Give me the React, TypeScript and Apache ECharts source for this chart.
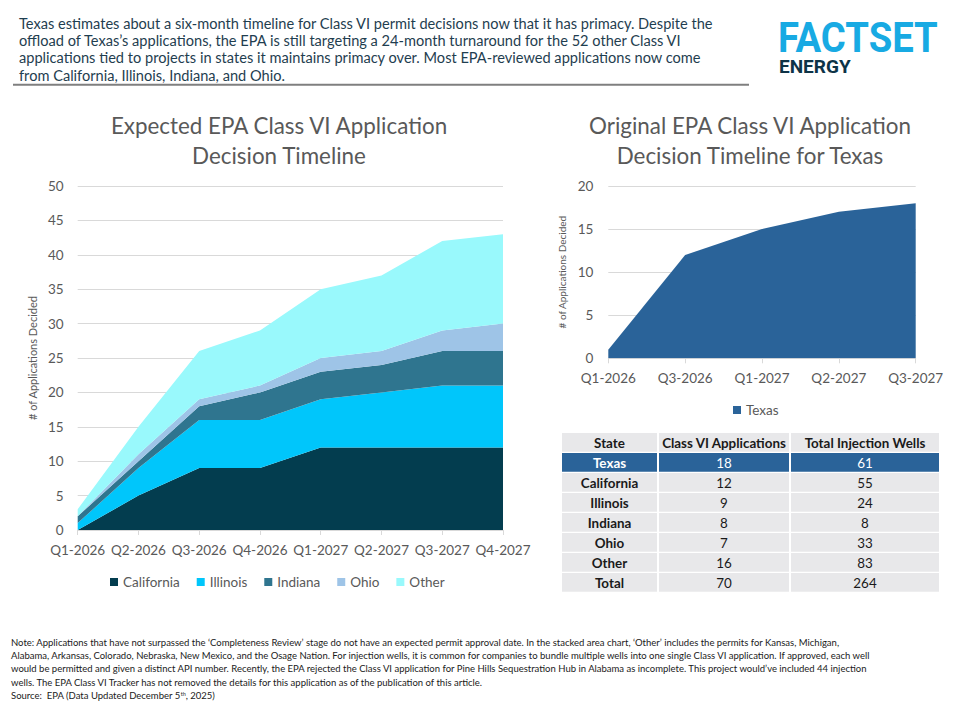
import React, { useEffect, useRef } from "react";
import * as echarts from "echarts";

const categories = ["Q1-2026", "Q2-2026", "Q3-2026", "Q4-2026", "Q1-2027", "Q2-2027", "Q3-2027", "Q4-2027"];
const california = [0, 5, 9, 9, 12, 12, 12, 12];
const illinois = [1, 4, 7, 7, 7, 8, 9, 9];
const indiana = [1, 1, 2, 4, 4, 4, 5, 5];
const ohio = [0, 1, 1, 1, 2, 2, 3, 4];
const other = [1, 4, 7, 8, 10, 11, 13, 13];

const texasCategories = ["Q1-2026", "Q3-2026", "Q1-2027", "Q2-2027", "Q3-2027"];
const texas = [1, 12, 15, 17, 18];

const tableHeader = ["State", "Class VI Applications", "Total Injection Wells"];
const tableStates = ["Texas", "California", "Illinois", "Indiana", "Ohio", "Other", "Total"];
const tableApplications = [18, 12, 9, 8, 7, 16, 70];
const tableWells = [61, 55, 24, 8, 33, 83, 264];

const headerLines = [
  "Texas estimates about a six-month timeline for Class VI permit decisions now that it has primacy. Despite the",
  "offload of Texas\u2019s applications, the EPA is still targeting a 24-month turnaround for the 52 other Class VI",
  "applications tied to projects in states it maintains primacy over. Most EPA-reviewed applications now come",
  "from California, Illinois, Indiana, and Ohio.",
];

const noteLines = [
  "Note: Applications that have not surpassed the \u2018Completeness Review\u2019 stage do not have an expected permit approval date. In the stacked area chart, \u2018Other\u2019 includes the permits for Kansas, Michigan,",
  "Alabama, Arkansas, Colorado, Nebraska, New Mexico, and the Osage Nation. For injection wells, it is common for companies to bundle multiple wells into one single Class VI application. If approved, each well",
  "would be permitted and given a distinct API number. Recently, the EPA rejected the Class VI application for Pine Hills Sequestration Hub in Alabama as incomplete. This project would\u2019ve included 44 injection",
  "wells. The EPA Class VI Tracker has not removed the details for this application as of the publication of this article.",
];

const FONT = "Lato, 'Open Sans', sans-serif";
const GRAY = "#595959";
const GRID = "#d9d9d9";
const COLORS = {
  California: "#033d4f",
  Illinois: "#00c6fb",
  Indiana: "#2f758f",
  Ohio: "#9ec4e7",
  Other: "#99f9fc",
  Texas: "#2a6399",
};

function txt(x: number, y: number, text: string, size: number, fill: string, opts: any = {}) {
  return {
    type: "text",
    x,
    y,
    silent: true,
    style: {
      text,
      fill,
      fontSize: size,
      fontFamily: opts.family || FONT,
      fontWeight: opts.weight || "normal",
      align: opts.align || "left",
      textAlign: opts.align || "left",
      verticalAlign: "middle",
      textVerticalAlign: "middle",
      lineHeight: opts.lineHeight,
      rich: opts.rich,
    },
    scaleX: opts.scaleX || 1,
  };
}

export default function App() {
  const ref = useRef<HTMLDivElement>(null);

  useEffect(() => {
    if (!ref.current) return;
    const chart = echarts.init(ref.current, null, { renderer: "svg" });

    const graphics: any[] = [];
    headerLines.forEach((l, i) => graphics.push(txt(19, 23.5 + i * 17.2, l, 14.6, "#1f3e50")));
    graphics.push({
      type: "line",
      silent: true,
      shape: { x1: 13, y1: 84.8, x2: 749, y2: 84.8 },
      style: { stroke: "#7f7f7f", lineWidth: 2 },
    });
    graphics.push(txt(778, 38, "FACTSET", 42, "#18aae3", { weight: "bold", family: "Roboto, sans-serif", scaleX: 0.91 }));
    graphics.push(txt(779, 66, "ENERGY", 19, "#0d3347", { weight: "bold", family: "Roboto, sans-serif" }));

    graphics.push(txt(279, 140, "Expected EPA Class VI Application\nDecision Timeline", 22.4, GRAY, { align: "center", lineHeight: 30 }));
    graphics.push(txt(750, 140, "Original EPA Class VI Application\nDecision Timeline for Texas", 22.4, GRAY, { align: "center", lineHeight: 30 }));

    // Table
    const colX = [562, 659, 791];
    const colW = [95, 130, 148];
    const rowTop = 433;
    const rowH = 20;
    const rows: (string | number)[][] = [tableHeader];
    tableStates.forEach((s, i) => rows.push([s, tableApplications[i], tableWells[i]]));
    rows.forEach((row, r) => {
      const isTexas = r === 1;
      row.forEach((cell, c) => {
        const y = rowTop + r * rowH;
        graphics.push({
          type: "rect",
          silent: true,
          shape: { x: colX[c], y, width: colW[c], height: rowH - 1.2 },
          style: { fill: isTexas ? COLORS.Texas : "#e8e8ea" },
        });
        graphics.push(
          txt(colX[c] + colW[c] / 2, y + rowH / 2 - 0.5, String(cell), 13.4, isTexas ? "#ffffff" : "#1a1a1a", {
            align: "center",
            weight: r === 0 || c === 0 ? "bold" : "normal",
          })
        );
      });
    });

    noteLines.forEach((l, i) => graphics.push(txt(11, 642 + i * 13.4, l, 9.5, "#1a1a1a")));
    graphics.push(
      txt(11, 695.5, "Source:  EPA (Data Updated December 5{sup|th}, 2025)", 9.5, "#1a1a1a", {
        rich: { sup: { fontSize: 5.5, verticalAlign: "top", fill: "#1a1a1a", fontFamily: FONT } },
      })
    );

    const axisLabel = { color: GRAY, fontSize: 13.5, fontFamily: FONT };

    const stacked = [
      ["California", california],
      ["Illinois", illinois],
      ["Indiana", indiana],
      ["Ohio", ohio],
      ["Other", other],
    ].map(([name, data]: any) => ({
      name,
      type: "line",
      stack: "total",
      xAxisIndex: 0,
      yAxisIndex: 0,
      data,
      symbol: "none",
      showSymbol: false,
      lineStyle: { width: 0 },
      areaStyle: { color: (COLORS as any)[name], opacity: 1 },
      itemStyle: { color: (COLORS as any)[name] },
      emphasis: { disabled: true },
    }));

    chart.setOption({
      animation: false,
      textStyle: { fontFamily: FONT },
      grid: [
        { left: 77.7, right: 457, top: 186, bottom: 171 },
        { left: 608.3, right: 44.3, top: 186, height: 172.3 },
      ],
      xAxis: [
        {
          type: "category",
          gridIndex: 0,
          data: categories,
          boundaryGap: false,
          axisLine: { lineStyle: { color: GRID } },
          axisTick: { show: true, length: 5, lineStyle: { color: GRID } },
          axisLabel: { ...axisLabel, margin: 13, interval: 0 },
        },
        {
          type: "category",
          gridIndex: 1,
          data: texasCategories,
          boundaryGap: false,
          axisLine: { lineStyle: { color: GRID } },
          axisTick: { show: true, length: 5, lineStyle: { color: GRID } },
          axisLabel: { ...axisLabel, margin: 13, interval: 0 },
        },
      ],
      yAxis: [
        {
          type: "value",
          gridIndex: 0,
          min: 0,
          max: 50,
          interval: 5,
          axisLine: { show: false },
          axisTick: { show: false },
          splitLine: { lineStyle: { color: GRID } },
          axisLabel: { ...axisLabel, margin: 14 },
          name: "# of Applications Decided",
          nameLocation: "middle",
          nameRotate: 90,
          nameGap: 40,
          nameTextStyle: { color: GRAY, fontSize: 11, fontFamily: FONT },
        },
        {
          type: "value",
          gridIndex: 1,
          min: 0,
          max: 20,
          interval: 5,
          axisLine: { show: false },
          axisTick: { show: false },
          splitLine: { lineStyle: { color: GRID } },
          axisLabel: { ...axisLabel, margin: 15 },
          name: "# of Applications Decided",
          nameLocation: "middle",
          nameRotate: 90,
          nameGap: 41,
          nameTextStyle: { color: GRAY, fontSize: 10, fontFamily: FONT },
        },
      ],
      legend: [
        {
          data: ["California", "Illinois", "Indiana", "Ohio", "Other"],
          left: 105,
          top: 570,
          itemWidth: 8,
          itemHeight: 8,
          itemGap: 17,
          icon: "rect",
          selectedMode: false,
          textStyle: { color: GRAY, fontSize: 13.5, fontFamily: FONT },
        },
        {
          data: ["Texas"],
          left: 728,
          top: 398,
          itemWidth: 8,
          itemHeight: 8,
          icon: "rect",
          selectedMode: false,
          textStyle: { color: GRAY, fontSize: 13.5, fontFamily: FONT },
        },
      ],
      series: [
        ...stacked,
        {
          name: "Texas",
          type: "line",
          xAxisIndex: 1,
          yAxisIndex: 1,
          data: texas,
          symbol: "none",
          showSymbol: false,
          lineStyle: { width: 0 },
          areaStyle: { color: COLORS.Texas, opacity: 1 },
          itemStyle: { color: COLORS.Texas },
          emphasis: { disabled: true },
        },
      ],
      graphic: { elements: graphics },
    });

    return () => chart.dispose();
  }, []);

  return (
    <div
      ref={ref}
      style={{ position: "absolute", left: 0, top: 0, width: 960, height: 701, background: "#ffffff" }}
    />
  );
}
